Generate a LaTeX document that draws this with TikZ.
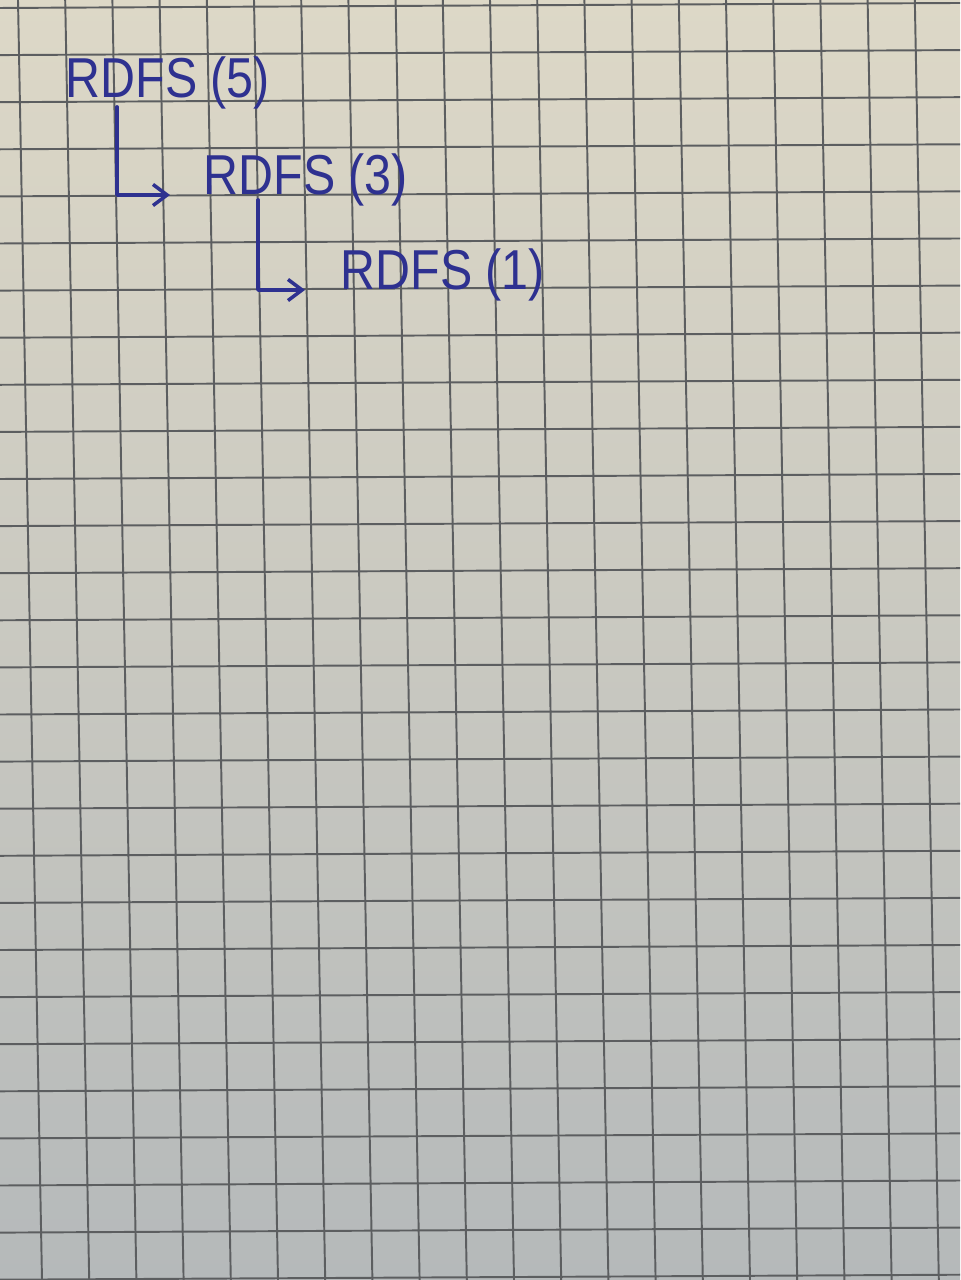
\documentclass[tikz,border=0pt]{standalone}
\usepackage{fontspec}
\setmainfont{Liberation Sans}[FakeStretch=0.86]
\usepackage{xcolor}
\usepackage{tikz}
\usetikzlibrary{arrows.meta}

\definecolor{ink}{HTML}{2E3190}
\definecolor{paperTop}{HTML}{DDD8C7}
\definecolor{paperMid}{HTML}{CFCFCA}
\definecolor{paperBot}{HTML}{B5B9BA}
\definecolor{rule}{HTML}{5C5E60}

\begin{document}
\begin{tikzpicture}[x=0.01cm, y=-0.01cm,%
% common options for the handwritten calls:
call/.style = {text=ink, font=\fontsize{16}{18}\selectfont, anchor=base west, inner sep=0},
% common options for the hooked arrows:
link/.style = {draw=ink, line width=1.1pt, line cap=round, line join=round,
            -{Straight Barb[length=4pt,width=6pt,line width=1pt]}},
% squared paper:
gridline/.style = {draw=rule, line width=0.55pt}]
\useasboundingbox (0,0) rectangle (960,1280);
\shade[top color=paperTop, middle color=paperMid, bottom color=paperBot]
  (0,0) rectangle (960,1280);
\begin{scope}
\clip (0,0) rectangle (960,1280);
\foreach \i in {-1,...,20}
  \draw[gridline] ({18+47.2*\i},0) -- ({42+47.2*\i},1280);
\foreach \j in {0,...,27}
  \draw[gridline] (0,{8+47.1*\j}) -- (960,{3+47.1*\j});
\end{scope}
\node[call] (r5) at (65,98) {RDFS (5)};
\node[call] (r3) at (203,195) {RDFS (3)};
\node[call] (r1) at (340,290) {RDFS (1)};
\coordinate (t5) at (117,107);
\coordinate (t3) at (258,200);
\draw[link, shorten >=0.33cm] (t5) |- (r3.base west);
\draw[link, shorten >=0.35cm] (t3) |- (r1.base west);
\end{tikzpicture}
\end{document}
